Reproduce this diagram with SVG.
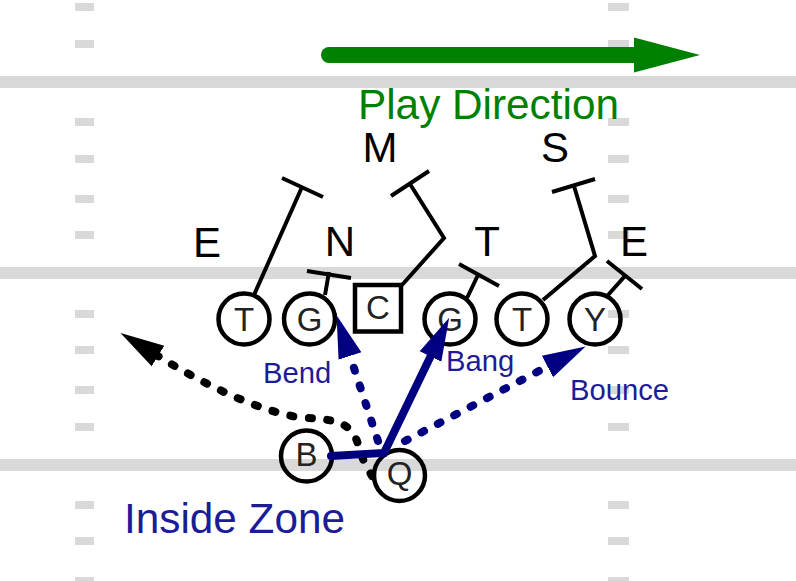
<svg xmlns="http://www.w3.org/2000/svg" width="796" height="581" viewBox="0 0 796 581">
<style>
text{font-family:"Liberation Sans",Arial,sans-serif}
.yard{fill:#d9d9d9}
.shape{fill:none;stroke:#000;stroke-width:4.500}
.def{fill:none;stroke:#000;stroke-width:4}
.lbl{font-size:33px;fill:#222;text-anchor:middle}
.pos{font-size:42px;fill:#000;text-anchor:middle}
.route{font-size:29.200px;fill:#1c1c98}
.big{font-size:42.300px}
.dot{fill:none;stroke-width:8;stroke-linecap:round;stroke-dasharray:3 15.500}
.solid{fill:none;stroke-width:8;stroke-linecap:round}
</style>
<defs>
<marker id="headBlue" markerUnits="userSpaceOnUse" markerWidth="46" markerHeight="28" refX="0" refY="14" orient="auto"><path d="M0,2 L43,14 L0,26 Z" fill="#000080"/></marker>
<marker id="headBlack" markerUnits="userSpaceOnUse" markerWidth="46" markerHeight="28" refX="0" refY="14" orient="auto"><path d="M0,2 L44,14 L0,26 Z" fill="#000"/></marker>
<marker id="headGreen" markerUnits="userSpaceOnUse" markerWidth="68" markerHeight="38" refX="0" refY="19" orient="auto"><path d="M0,1.500 L66,19 L0,36.500 Z" fill="#008000"/></marker>
</defs>
<rect width="796" height="581" fill="#fff"/>
<g id="field">
<rect class="yard" x="0" y="76" width="796" height="12"/>
<rect class="yard" x="0" y="267" width="796" height="12"/>
<rect class="yard" x="0" y="459" width="796" height="12"/>
<g id="hash-left">
<rect class="yard" x="75" y="3" width="19" height="8"/><rect class="yard" x="75" y="40" width="19" height="8"/><rect class="yard" x="75" y="118" width="19" height="8"/><rect class="yard" x="75" y="155" width="19" height="8"/><rect class="yard" x="75" y="195" width="19" height="8"/><rect class="yard" x="75" y="231" width="19" height="8"/><rect class="yard" x="75" y="310" width="19" height="8"/><rect class="yard" x="75" y="346" width="19" height="8"/><rect class="yard" x="75" y="386" width="19" height="8"/><rect class="yard" x="75" y="423" width="19" height="8"/><rect class="yard" x="75" y="501" width="19" height="8"/><rect class="yard" x="75" y="537" width="19" height="8"/><rect class="yard" x="75" y="577" width="19" height="8"/>
</g>
<g id="hash-right">
<rect class="yard" x="608" y="3" width="21" height="8"/><rect class="yard" x="608" y="40" width="21" height="8"/><rect class="yard" x="608" y="118" width="21" height="8"/><rect class="yard" x="608" y="155" width="21" height="8"/><rect class="yard" x="608" y="195" width="21" height="8"/><rect class="yard" x="608" y="231" width="21" height="8"/><rect class="yard" x="608" y="310" width="21" height="8"/><rect class="yard" x="608" y="346" width="21" height="8"/><rect class="yard" x="608" y="386" width="21" height="8"/><rect class="yard" x="608" y="423" width="21" height="8"/><rect class="yard" x="608" y="501" width="21" height="8"/><rect class="yard" x="608" y="537" width="21" height="8"/><rect class="yard" x="608" y="577" width="21" height="8"/>
</g>
</g>
<g id="play-direction">
<line x1="329" y1="55" x2="634" y2="55" stroke="#008000" stroke-width="16" stroke-linecap="round" marker-end="url(#headGreen)"/>
<text class="big" x="358" y="119" fill="#008000">Play Direction</text>
</g>
<g id="nodes">
<g id="node-lt"><circle class="shape" cx="244" cy="319" r="25.500"/><text class="lbl" x="244" y="331">T</text></g>
<g id="node-lg"><circle class="shape" cx="309.500" cy="319" r="25.500"/><text class="lbl" x="309.500" y="331">G</text></g>
<g id="node-c"><rect class="shape" x="355" y="285" width="46" height="46.500"/><text class="lbl" x="378" y="319">C</text></g>
<g id="node-rg"><circle class="shape" cx="450" cy="319" r="25.500"/><text class="lbl" x="450" y="331">G</text></g>
<g id="node-rt"><circle class="shape" cx="522" cy="319" r="25.500"/><text class="lbl" x="522" y="331">T</text></g>
<g id="node-y"><circle class="shape" cx="595" cy="319" r="25.500"/><text class="lbl" x="595" y="331">Y</text></g>
<g id="node-b"><circle class="shape" cx="306.500" cy="456" r="25.500"/><text class="lbl" x="306.500" y="466">B</text></g>
<g id="node-q"><circle class="shape" cx="399.500" cy="475.500" r="25.500"/><text class="lbl" x="399.500" y="485">Q</text></g>
<g id="def-e1"><text class="pos" x="207" y="257">E</text></g>
<g id="def-n"><text class="pos" x="340" y="256">N</text></g>
<g id="def-m"><text class="pos" x="380" y="162">M</text></g>
<g id="def-t"><text class="pos" x="487" y="256">T</text></g>
<g id="def-s"><text class="pos" x="555" y="162">S</text></g>
<g id="def-e2"><text class="pos" x="634" y="256">E</text></g>
</g>
<g id="connectors">
<g id="blocks">
<path class="def" d="M254,295 L302,187 M282,178 L323,197"/>
<path class="def" d="M325,295 L329,272 M307,271 L351,278"/>
<path class="def" d="M402,285 L444,238 L410,184 M391,196 L429,171"/>
<path class="def" d="M467,298 L478,275 M459,264 L499,286"/>
<path class="def" d="M543,300 L595,256 L574,186 M552,192 L595,179"/>
<path class="def" d="M608,295 L625,276 M607,261 L642,289"/>
</g>
<path id="route-pitch" class="dot" stroke="#000" d="M372,476 L364,462 L357,441 Q352,428 340,423 Q325,418 303,418 C262,412 210,388 158,356" marker-end="url(#headBlack)"/>
<path id="route-bend" class="dot" stroke="#000080" d="M378,441 L350,356" marker-end="url(#headBlue)"/>
<path id="route-bounce" class="dot" stroke="#000080" d="M405,441 L547.500,366.500" marker-end="url(#headBlue)"/>
<path id="route-bang" class="solid" stroke="#000080" d="M331,456 L384,453 L430.500,356.500" marker-end="url(#headBlue)"/>
</g>
<g id="labels">
<text class="route" x="263" y="383">Bend</text>
<text class="route" x="446" y="371">Bang</text>
<text class="route" x="570" y="400">Bounce</text>
<text class="big" x="124" y="533" fill="#1c1c98">Inside Zone</text>
</g>
</svg>
